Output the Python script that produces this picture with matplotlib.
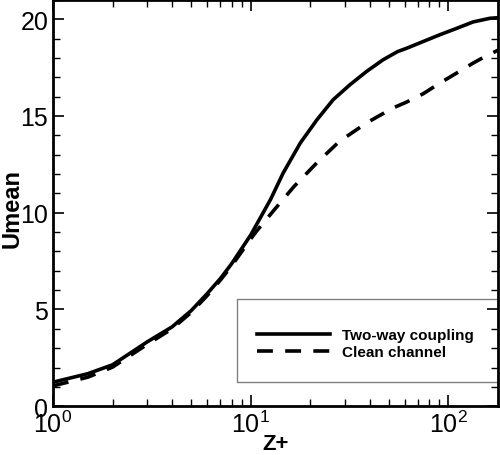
import matplotlib
matplotlib.use("Agg")
import matplotlib.pyplot as plt
from matplotlib.patches import Rectangle
from matplotlib.ticker import MultipleLocator, LogLocator

plt.rcParams['font.family'] = ['Liberation Sans', 'DejaVu Sans']
plt.rcParams['mathtext.fontset'] = 'custom'
plt.rcParams['mathtext.rm'] = 'Liberation Sans'
plt.rcParams['mathtext.it'] = 'Liberation Sans'

# Two-way coupling
tw_z = [1.0, 1.5, 2.0, 3.0, 4.0, 5.0, 6.0, 7.0, 8.0, 10.0, 12.6, 14.6, 17.8, 21.6,
        26.1, 31.7, 38.5, 46.6, 55.3, 61.4, 74.5, 90.4, 110, 133, 162, 178]
tw_u = [1.24, 1.68, 2.14, 3.33, 4.1, 4.94, 5.8, 6.58, 7.36, 8.85, 10.69, 12.06, 13.6, 14.8,
        15.84, 16.61, 17.3, 17.9, 18.33, 18.5, 18.85, 19.2, 19.53, 19.86, 20.05, 20.08]

# Clean channel
cc_z = [1.0, 1.5, 2.0, 3.0, 4.0, 5.0, 6.0, 7.0, 8.0, 10.0, 10.7, 13.2, 16.6, 21.6,
        28.1, 38.5, 52.3, 61.4, 74.5, 90.4, 110, 133, 151, 178]
cc_u = [1.05, 1.5, 2.02, 3.2, 4.0, 4.85, 5.7, 6.5, 7.25, 8.65, 9.05, 10.17, 11.37, 12.58,
        13.69, 14.64, 15.41, 15.72, 16.15, 16.7, 17.22, 17.73, 18.04, 18.4]

fig = plt.figure(figsize=(5.0, 4.56), dpi=100)
ax = fig.add_axes([0.106, 0.107, 0.89, 0.891])

ax.plot(tw_z, tw_u, color='black', linewidth=2.6, linestyle='-', label='Two-way coupling')
ax.plot(cc_z, cc_u, color='black', linewidth=2.6, linestyle=(0, (4.4, 3.4)), label='Clean channel')

ax.set_xscale('log')
ax.set_xlim(1, 178)
ax.set_ylim(0, 21)
ax.yaxis.set_major_locator(MultipleLocator(5))
ax.yaxis.set_minor_locator(MultipleLocator(1))
ax.xaxis.set_major_locator(LogLocator(base=10))
ax.xaxis.set_minor_locator(LogLocator(base=10, subs=range(2, 10)))

ax.tick_params(which='both', direction='in', top=True, right=True, labelsize=18)
ax.tick_params(which='major', length=8, width=1.2)
ax.tick_params(which='minor', length=5, width=1.0)
for sp in ax.spines.values():
    sp.set_linewidth(2)

ax.set_xlabel('Z+', fontsize=16, fontweight='bold')
ax.set_ylabel('Umean', fontsize=17, fontweight='bold')
ax.xaxis.set_label_coords(0.5, -0.066)
ax.yaxis.set_label_coords(-0.067, 0.49)

ax.add_patch(Rectangle((0.413, 0.059), 0.587, 0.205, transform=ax.transAxes,
                       fill=False, edgecolor='#808080', linewidth=1, clip_on=False))
ax.legend(loc='center left', bbox_to_anchor=(0.458, 0.154), frameon=False,
          borderpad=0, borderaxespad=0, handlelength=4.8, handletextpad=0.8,
          labelspacing=0.2, prop={'size': 11, 'weight': 'bold'})

fig.savefig('out.png', dpi=100)
